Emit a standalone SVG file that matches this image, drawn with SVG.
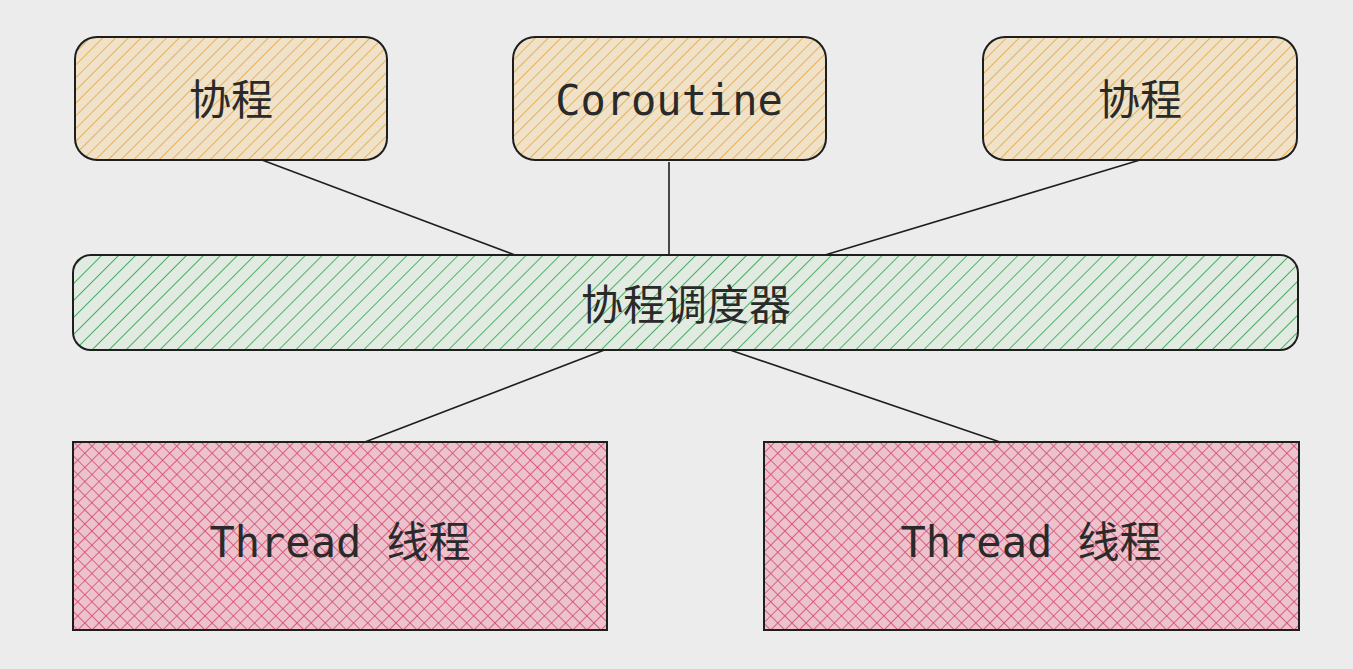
<svg xmlns="http://www.w3.org/2000/svg" width="1353" height="669" viewBox="0 0 1353 669">
<defs>
<pattern id="py" width="9" height="9" patternUnits="userSpaceOnUse" patternTransform="rotate(45)"><rect width="9" height="9" fill="#efe2c8"/><line x1="0" y1="0" x2="0" y2="9" stroke="#e5ad50" stroke-width="1.8"/></pattern>
<pattern id="pg" width="12" height="12" patternUnits="userSpaceOnUse" patternTransform="rotate(45)"><rect width="12" height="12" fill="#e2ebe2"/><line x1="0" y1="0" x2="0" y2="12" stroke="#3fa75c" stroke-width="1.8"/></pattern>
<pattern id="pr" width="10" height="10" patternUnits="userSpaceOnUse" patternTransform="rotate(45)"><rect width="10" height="10" fill="#ecc2cd"/><line x1="0" y1="0" x2="0" y2="10" stroke="#d64e74" stroke-width="1.7"/><line x1="0" y1="0" x2="10" y2="0" stroke="#d64e74" stroke-width="1.7"/></pattern>
</defs>
<style>
.b{stroke:#1e1e1e;stroke-width:2}
.t{font-family:"DejaVu Sans Mono","Noto Sans CJK SC",monospace;font-size:42px;fill:#2a2a2a;text-anchor:middle;dominant-baseline:central}
</style>
<rect width="1353" height="669" fill="#ececec"/>
<g id="connectors" stroke="#1e1e1e" stroke-width="1.6" fill="none">
<line x1="262" y1="160" x2="515" y2="255"/>
<line x1="669" y1="162" x2="669" y2="255"/>
<line x1="1140" y1="160" x2="825" y2="255"/>
<line x1="607" y1="349" x2="365" y2="442"/>
<line x1="730" y1="350" x2="1000" y2="442"/>
</g>
<g id="n1"><rect class="b" x="75" y="37" width="312" height="123" rx="22" fill="url(#py)"/><text class="t" x="231" y="100">协程</text></g>
<g id="n2"><rect class="b" x="513" y="37" width="313" height="123" rx="22" fill="url(#py)"/><text class="t" x="669" y="100">Coroutine</text></g>
<g id="n3"><rect class="b" x="983" y="37" width="314" height="123" rx="22" fill="url(#py)"/><text class="t" x="1140" y="100">协程</text></g>
<g id="sched"><rect class="b" x="73" y="255" width="1225" height="95" rx="18" fill="url(#pg)"/><text class="t" x="686" y="305">协程调度器</text></g>
<g id="t1"><rect class="b" x="73" y="442" width="534" height="188" fill="url(#pr)" stroke-width="3"/><text class="t" x="340" y="542">Thread 线程</text></g>
<g id="t2"><rect class="b" x="764" y="442" width="535" height="188" fill="url(#pr)" stroke-width="3"/><text class="t" x="1031" y="542">Thread 线程</text></g>
</svg>
